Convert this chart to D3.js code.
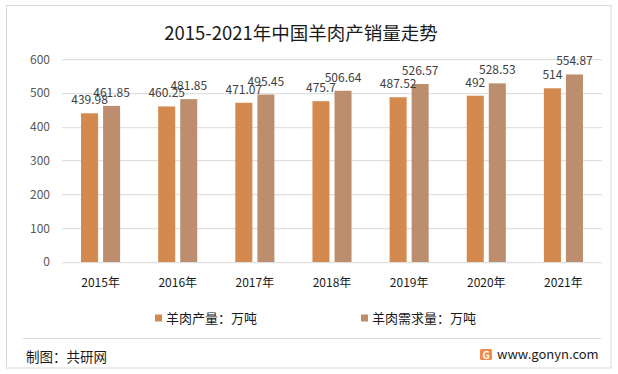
<!DOCTYPE html>
<html lang="zh">
<head>
    <meta charset="UTF-8">
    <title>2015-2021年中国羊肉产销量走势</title>
    <style>
        body { margin: 0; background: #fff; font-family: "Microsoft YaHei", "Noto Sans CJK SC", sans-serif; }
        #chart { width: 618px; height: 374px; }
    </style>
    <script src="https://d3js.org/d3.v7.min.js"></script>
</head>
<body>
    <div id="chart"></div>

    <script>
        // data
        const years = ['2015年', '2016年', '2017年', '2018年', '2019年', '2020年', '2021年'];
        const seriesNames = ['羊肉产量：万吨', '羊肉需求量：万吨'];
        const production = [439.98, 460.25, 471.07, 475.7, 487.52, 492, 514];
        const demand = [461.85, 481.85, 495.45, 506.64, 526.57, 528.53, 554.87];
        const yTicks = [0, 100, 200, 300, 400, 500, 600];
        const colors = ['#D48A4E', '#BC8E6E'];

        const W = 618, H = 374;
        const margin = {top: 59.2, right: 16, bottom: 112, left: 62};
        const width = 602 - margin.left,
              height = 262 - margin.top;

        const svg = d3.select('#chart').append('svg')
            .attr('width', W)
            .attr('height', H);

        // outer frame
        svg.append('rect')
            .attr('x', 6.5).attr('y', 5.5)
            .attr('width', 604.5).attr('height', 362.5)
            .attr('fill', 'none')
            .attr('stroke', '#d9d9d9');

        // title
        svg.append('text')
            .attr('x', 301)
            .attr('y', 39.5)
            .attr('text-anchor', 'middle')
            .style('font-size', '18.5px')
            .style('fill', '#1a1a1a')
            .text('2015-2021年中国羊肉产销量走势');

        const g = svg.append('g')
            .attr('transform', `translate(${margin.left}, ${margin.top})`);

        const x0 = d3.scaleBand()
            .domain(years)
            .range([0, width])
            .paddingInner(0.4935)
            .paddingOuter(0.4935 / 2);

        const x1 = d3.scaleBand()
            .domain([0, 1])
            .range([0, x0.bandwidth()])
            .paddingInner(0.2273);

        const y = d3.scaleLinear()
            .domain([0, 600])
            .range([height, 0]);

        // gridlines
        g.selectAll('.grid')
            .data(yTicks)
            .enter().append('line')
              .attr('x1', 0)
              .attr('x2', width)
              .attr('y1', d => Math.round(y(d)) + 0.5)
              .attr('y2', d => Math.round(y(d)) + 0.5)
              .attr('stroke', '#d9d9d9');

        // y axis labels
        const yAxis = g.append('g')
            .call(d3.axisLeft(y).tickValues(yTicks).tickSize(0).tickPadding(12));
        yAxis.select('.domain').remove();
        yAxis.selectAll('text')
            .style('font-size', '12px')
            .style('font-family', '"Microsoft YaHei", "Noto Sans CJK SC", sans-serif')
            .style('fill', '#595959');

        // x axis labels
        const xAxis = g.append('g')
            .attr('transform', `translate(0, ${height})`)
            .call(d3.axisBottom(x0).tickSize(0).tickPadding(16));
        xAxis.select('.domain').remove();
        xAxis.selectAll('text')
            .style('font-size', '12px')
            .style('font-family', '"Microsoft YaHei", "Noto Sans CJK SC", sans-serif')
            .style('fill', '#1a1a1a');

        const series = [production, demand];
        const groups = g.selectAll('.year')
            .data(years)
            .enter().append('g')
              .attr('transform', d => `translate(${x0(d)}, 0)`);

        groups.selectAll('rect')
            .data((d, i) => series.map((s, k) => ({k: k, v: s[i]})))
            .enter().append('rect')
              .attr('x', d => x1(d.k))
              .attr('y', d => y(d.v))
              .attr('width', x1.bandwidth())
              .attr('height', d => height - y(d.v))
              .attr('fill', d => colors[d.k]);

        // value labels, same spot as in the reference (they touch there too)
        groups.selectAll('.lbl')
            .data((d, i) => series.map((s, k) => ({k: k, v: s[i]})))
            .enter().append('text')
              .attr('x', d => x1(d.k) + x1.bandwidth() / 2)
              .attr('y', d => y(d.v) - 9)
              .attr('text-anchor', 'middle')
              .style('font-size', '12px')
              .style('fill', '#404040')
              .text(d => d.v);

        // legend
        const legendX = [155, 361];
        const legend = svg.selectAll('.legend')
            .data(seriesNames)
            .enter().append('g')
              .attr('transform', (d, i) => `translate(${legendX[i]}, 318)`);
        legend.append('rect')
            .attr('x', 0).attr('y', -3.5)
            .attr('width', 7).attr('height', 7)
            .attr('fill', (d, i) => colors[i]);
        legend.append('text')
            .attr('x', 11)
            .attr('y', 4.5)
            .style('font-size', '13px')
            .style('fill', '#1a1a1a')
            .text(d => d);

        // footer
        svg.append('line')
            .attr('x1', 23).attr('x2', 601)
            .attr('y1', 338.5).attr('y2', 338.5)
            .attr('stroke', '#d9d9d9');
        svg.append('text')
            .attr('x', 26)
            .attr('y', 362)
            .style('font-size', '13.5px')
            .style('fill', '#1a1a1a')
            .text('制图：共研网');

        // logo mark
        svg.append('rect')
            .attr('x', 480).attr('y', 349)
            .attr('width', 12).attr('height', 11)
            .attr('rx', 1.5)
            .attr('fill', '#F08A4B');
        svg.append('text')
            .attr('x', 486).attr('y', 358.5)
            .attr('text-anchor', 'middle')
            .style('font-size', '10px')
            .style('font-weight', 'bold')
            .style('fill', '#fff')
            .text('G');
        svg.append('text')
            .attr('x', 497)
            .attr('y', 359)
            .style('font-size', '13px')
            .style('fill', '#1a1a1a')
            .text('www.gonyn.com');
    </script>
</body>
</html>
